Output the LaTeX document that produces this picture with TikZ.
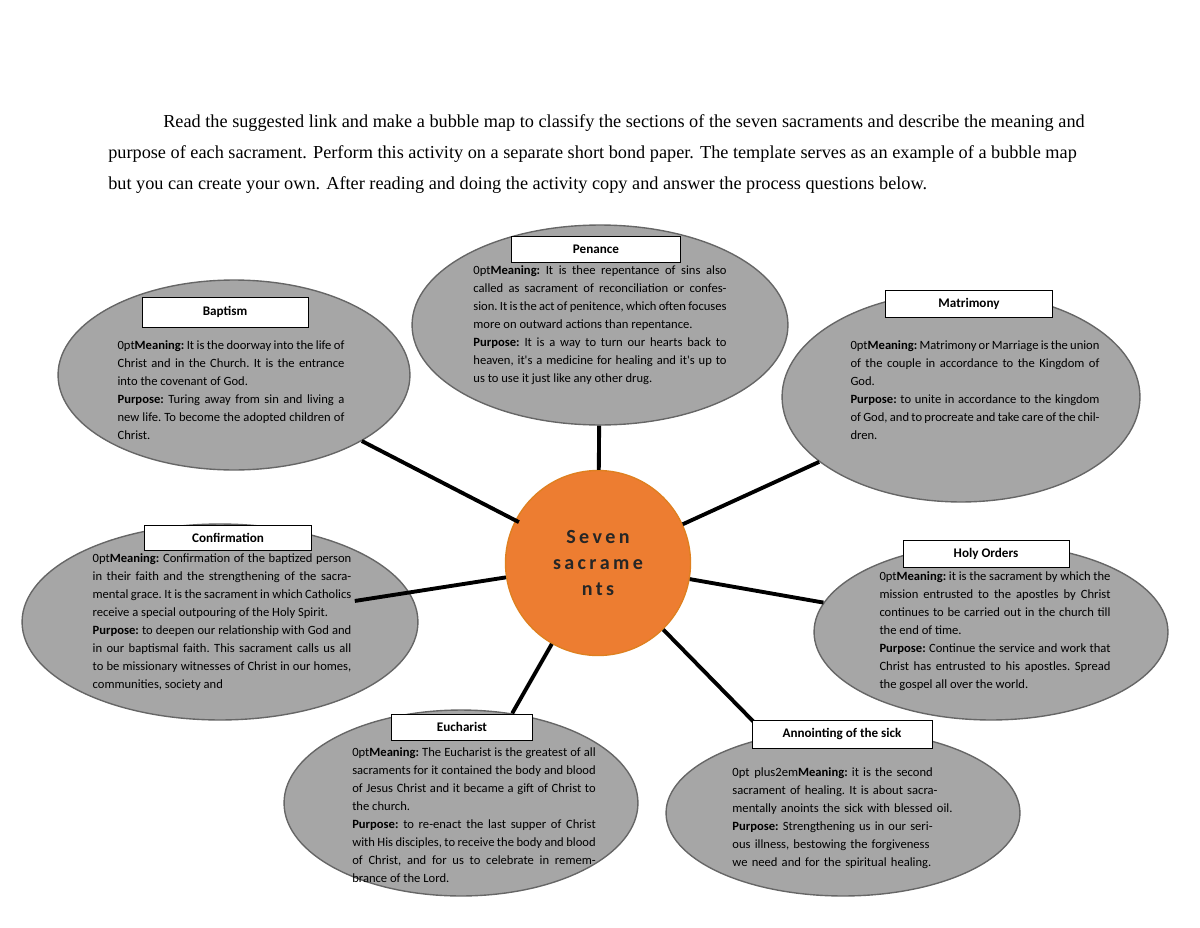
\documentclass[tikz,border=0pt]{standalone}
\usepackage{fontspec}
\usetikzlibrary{shapes.geometric}
\setmainfont{Liberation Serif}
\newfontfamily\calf{Carlito}
\begin{document}
\begin{tikzpicture}[x=0.0254cm,y=-0.0254cm,
 ttl/.style={draw=black,fill=white,line width=0.6pt,font=\calf\bfseries\fontsize{9.5}{11}\selectfont,inner sep=0},
 txt/.style={anchor=north,inner sep=0,font=\calf\fontsize{9.1}{13}\selectfont\frenchspacing\hyphenpenalty=10000,text width=#1,align=justify},
 con/.style={line width=2.8pt,black}]
\useasboundingbox (0,0) rectangle (1200,927);
\def\E#1#2#3#4#5{\node[ellipse,draw=black!60,line width=1pt,fill=black!35,minimum width=#4*0.0508cm,minimum height=#5*0.0508cm,inner sep=0] (#1) at (#2,#3) {};}
\E{pen}{600}{325}{188}{100}
\E{bap}{234}{375}{176}{95}
\E{mat}{961}{397}{179}{105}
\E{con}{220}{622}{198}{98}
\E{hol}{991}{632}{177}{88}
\E{euc}{461}{803}{177}{93}
\E{ano}{843}{813}{177}{83}
\node[circle,draw=orange!50!brown,line width=1pt,fill={rgb,255:red,237;green,125;blue,49},minimum size=185*0.0254cm,inner sep=0,font=\calf\bfseries\fontsize{14.5}{19}\selectfont,align=center,text=black!85] (c) at (598,563) {S\,e\,v\,e\,n\\s\,a\,c\,r\,a\,m\,e\\n\,t\,s};
% connectors
\draw[con] (c) -- (pen);
\draw[con,shorten <=-3pt] (c) -- (bap);
\draw[con] (c) -- (mat);
\draw[con,shorten >=-40pt] (c) -- (con);
\draw[con] (c) -- (hol);
\draw[con] (c) -- (euc);
\draw[con] (c) -- (ano);
% title boxes
\node[ttl,minimum width=169*0.0254cm,minimum height=26*0.0254cm] (tpen) at (596,249) {Penance};
\node[ttl,minimum width=166*0.0254cm,minimum height=30*0.0254cm] (tbap) at (225,312) {Baptism};
\node[ttl,minimum width=167*0.0254cm,minimum height=27*0.0254cm] (tmat) at (969,304) {Matrimony};
\node[ttl,minimum width=167*0.0254cm,minimum height=25*0.0254cm] (tcon) at (228,538) {Confirmation};
\node[ttl,minimum width=166*0.0254cm,minimum height=27*0.0254cm] (thol) at (986,554) {Holy Orders};
\node[ttl,minimum width=141*0.0254cm,minimum height=26*0.0254cm] (teuc) at (462,727) {Eucharist};
\node[ttl,minimum width=180*0.0254cm,minimum height=28*0.0254cm] (tano) at (842,734) {Annointing of the sick};
% texts
\node[txt=183pt] (xpen) at (600,265) {\textbf{Meaning:} It is thee repentance of sins also called as sacrament of reconciliation or confession. It is the act of penitence, which often focuses more on outward actions than repentance.\\\textbf{Purpose:} It is a way to turn our hearts back to heaven, it's a medicine for healing and it's up to us to use it just like any other drug.};
\node[txt=164pt] (xbap) at (231,340) {\textbf{Meaning:} It is the doorway into the life of Christ and in the Church. It is the entrance into the covenant of God.\\\textbf{Purpose:} Turing away from sin and living a new life. To become the adopted children of Christ.};
\node[txt=180pt] (xmat) at (975,340) {\textbf{Meaning:} Matrimony or Marriage is the union of the couple in accordance to the Kingdom of God.\\\textbf{Purpose:} to unite in accordance to the kingdom of God, and to procreate and take care of the children.};
\node[txt=187pt] (xcon) at (222,553) {\textbf{Meaning:} Confirmation of the baptized person in their faith and the strengthening of the sacramental grace. It is the sacrament in which Catholics receive a special outpouring of the Holy Spirit.\\\textbf{Purpose:} to deepen our relationship with God and in our baptismal faith. This sacrament calls us all to be missionary witnesses of Christ in our homes, communities, society and};
\node[txt=167pt] (xhol) at (995,571) {\textbf{Meaning:} it is the sacrament by which the mission entrusted to the apostles by Christ continues to be carried out in the church till the end of time.\\\textbf{Purpose:} Continue the service and work that Christ has entrusted to his apostles. Spread the gospel all over the world.};
\node[txt=176pt] (xeuc) at (474,747) {\textbf{Meaning:} The Eucharist is the greatest of all sacraments for it contained the body and blood of Jesus Christ and it became a gift of Christ to the church.\\\textbf{Purpose:} to re-enact the last supper of Christ with His disciples, to receive the body and blood of Christ, and for us to celebrate in remembrance of the Lord.};
\node[txt=170pt,align=center] (xano) at (850,767) {\textbf{Meaning:} it is the second sacrament of healing. It is about sacramentally anoints the sick with blessed oil.\\\textbf{Purpose:} Strengthening us in our serious illness, bestowing the forgiveness we need and for the spiritual healing.};
% heading
\begin{scope}[every node/.style={anchor=base west,inner sep=0,font=\fontsize{13.2}{15}\selectfont}]
\node (h1) at (163,128) {Read the suggested link and make a bubble map to classify the sections of the seven sacraments and describe the meaning and};
\node (h2) at (108,159) {purpose of each sacrament. Perform this activity on a separate short bond paper. The template serves as an example of a bubble map};
\node (h3) at (108,190) {but you can create your own. After reading and doing the activity copy and answer the process questions below.};
\end{scope}
\end{tikzpicture}
\end{document}
